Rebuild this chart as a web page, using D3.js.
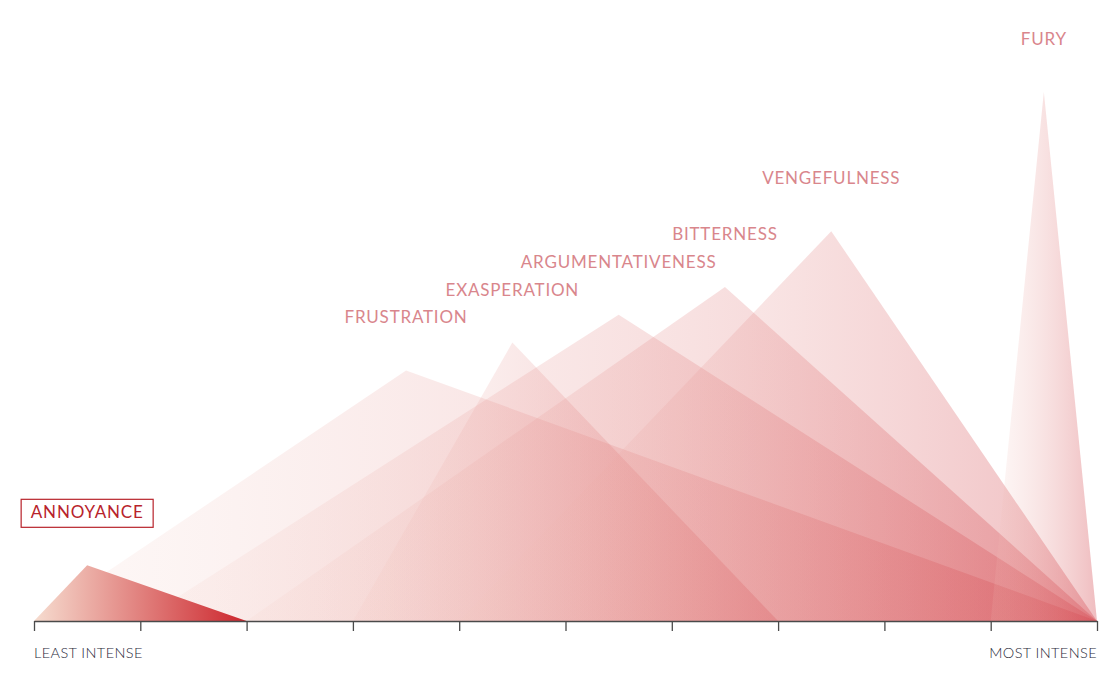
<!DOCTYPE html>
<html>
<head>
<meta charset="utf-8">
<script src="https://cdn.jsdelivr.net/npm/d3@7"></script>
<style>
  body { margin: 0; background: #fff; }
  svg { display: block; font-family: "Lato", "Open Sans", sans-serif; }
</style>
</head>
<body>
<div id="chart"></div>
<script>
var emotions = ["ANNOYANCE", "FRUSTRATION", "EXASPERATION", "ARGUMENTATIVENESS", "BITTERNESS", "VENGEFULNESS", "FURY"];
var starts = [0, 0, 3, 1, 2, 4, 9];
var peaks = [0.5, 3.5, 4.5, 5.5, 6.5, 7.5, 9.5];
var ends = [2, 10, 7, 10, 10, 10, 10];
var intensity = [2, 9, 10, 11, 12, 14, 19];
var axisLabels = ["LEAST INTENSE", "MOST INTENSE"];
var selected = "ANNOYANCE";

var width = 1118, height = 673;
var x = d3.scaleLinear().domain([0, 10]).range([34, 1097]);
var y = d3.scaleLinear().domain([0, 19]).range([621, 92]);

var svg = d3.select("#chart").append("svg")
    .attr("width", width)
    .attr("height", height);

var defs = svg.append("defs");

// one gradient per triangle, running from its start to its end
emotions.forEach(function (name, i) {
    var g = defs.append("linearGradient")
        .attr("id", "grad" + i)
        .attr("gradientUnits", "userSpaceOnUse")
        .attr("x1", x(starts[i])).attr("x2", x(ends[i]))
        .attr("y1", 0).attr("y2", 0);
    if (name == selected) {
        g.append("stop").attr("offset", "0%").attr("stop-color", "#f6dccf");
        g.append("stop").attr("offset", "100%").attr("stop-color", "#cc252c");
    } else {
        g.append("stop").attr("offset", "0%").attr("stop-color", "#f3c9c0").attr("stop-opacity", 0.12);
        g.append("stop").attr("offset", "100%").attr("stop-color", "#d4474f").attr("stop-opacity", 0.36);
    }
});

var idx = d3.range(emotions.length).filter(function (i) { return emotions[i] != selected; });
idx.push(emotions.indexOf(selected));

var line = d3.line();

svg.append("g").selectAll("path")
    .data(idx)
    .enter()
    .append("path")
    .attr("d", function (i) {
        return line([[x(starts[i]), y(0)], [x(peaks[i]), y(intensity[i])], [x(ends[i]), y(0)]]) + "Z";
    })
    .style("fill", function (i) { return "url(#grad" + i + ")"; });

// labels
var labels = svg.append("g").selectAll("g")
    .data(d3.range(emotions.length))
    .enter()
    .append("g")
    .attr("transform", function (i) { return "translate(" + x(peaks[i]) + "," + (y(intensity[i]) - 53) + ")"; });

labels.append("text")
    .attr("text-anchor", "middle")
    .attr("dy", "0.35em")
    .style("font-size", "17px")
    .style("letter-spacing", "0.8px")
    .style("fill", function (i) { return emotions[i] == selected ? "#b8232b" : "#d9868c"; })
    .text(function (i) { return emotions[i]; });

labels.filter(function (i) { return emotions[i] == selected; })
    .insert("rect", "text")
    .attr("x", -66).attr("y", -13)
    .attr("width", 132).attr("height", 28)
    .style("fill", "#fff")
    .style("stroke", "#b8232b")
    .style("stroke-width", 1.2);

// axis
var axis = svg.append("g")
    .attr("transform", "translate(0," + y(0) + ")")
    .call(d3.axisBottom(x).ticks(10).tickSize(10).tickSizeOuter(0).tickFormat(""));
axis.selectAll("path, line").style("stroke", "#4a4a4a").style("stroke-width", 1.3);

svg.append("text")
    .attr("x", x(0)).attr("y", 653).attr("dy", "0.35em")
    .style("font-size", "14.5px").style("font-weight", 300).style("letter-spacing", "0.4px").style("fill", "#2a2a3a")
    .text(axisLabels[0]);
svg.append("text")
    .attr("x", x(10)).attr("y", 653).attr("dy", "0.35em")
    .attr("text-anchor", "end")
    .style("font-size", "14.5px").style("font-weight", 300).style("letter-spacing", "0.4px").style("fill", "#2a2a3a")
    .text(axisLabels[1]);
</script>
</body>
</html>
